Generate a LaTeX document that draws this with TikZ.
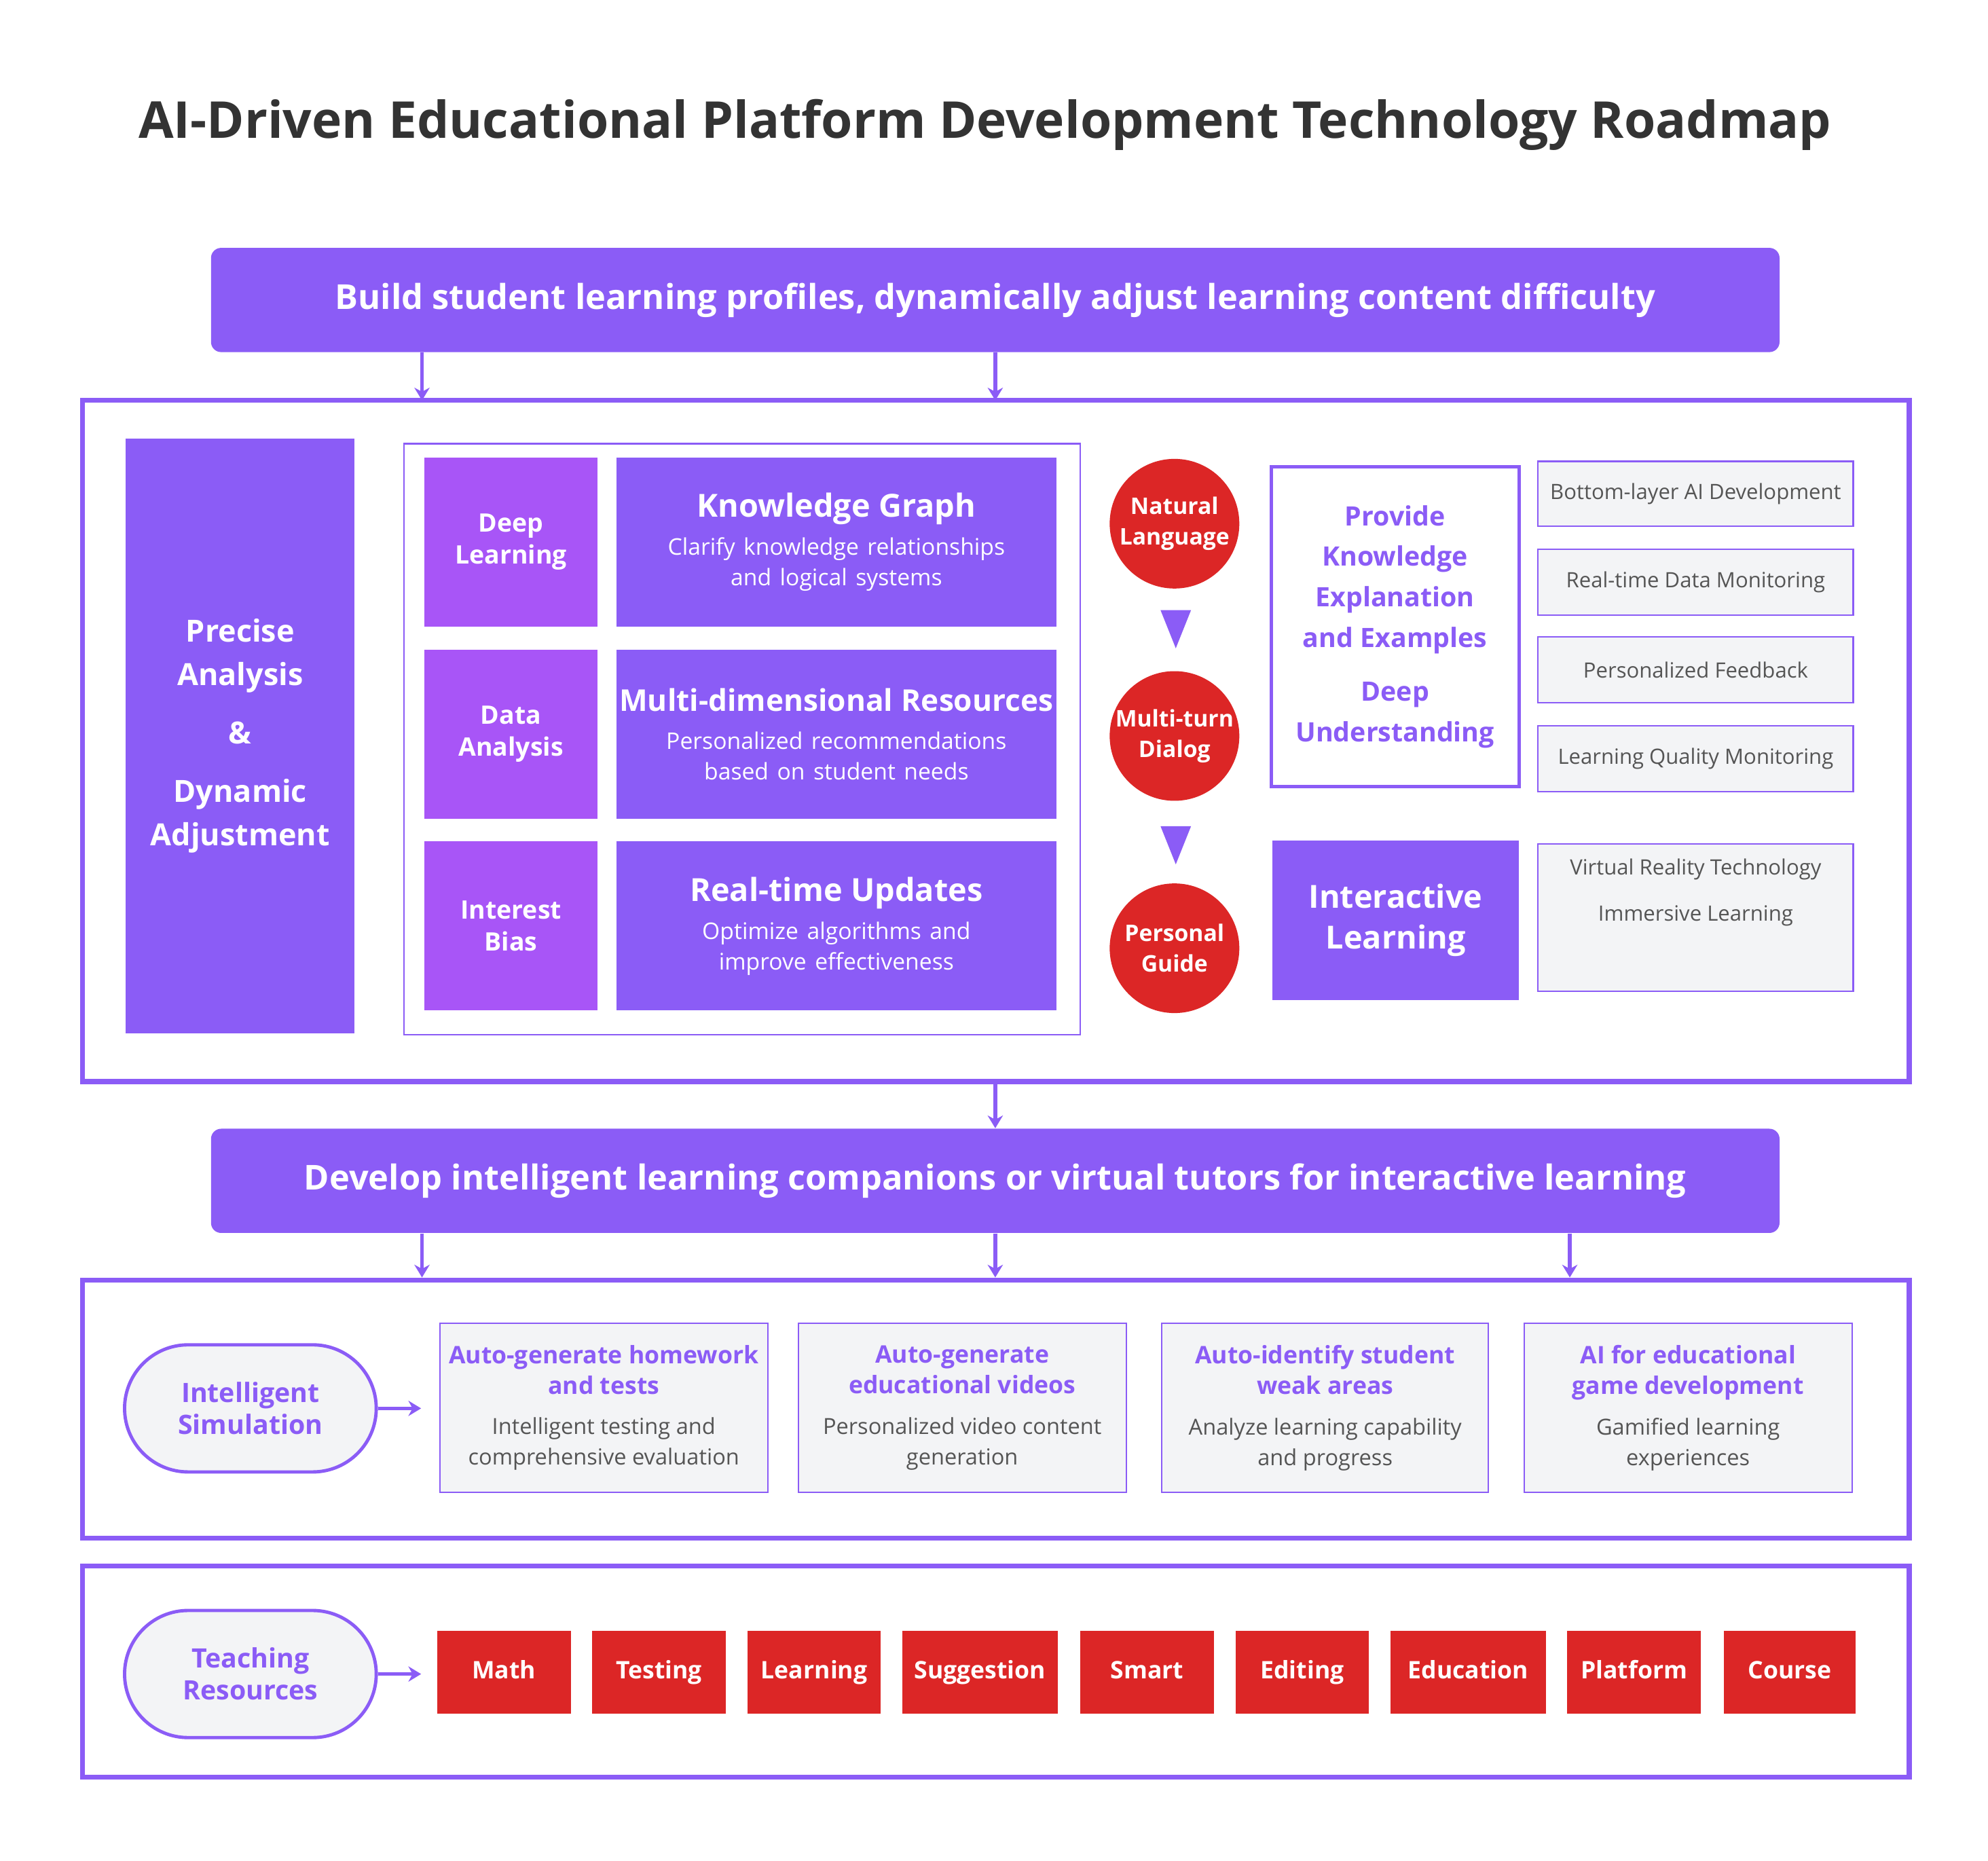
\documentclass[tikz,border=0pt]{standalone}
\usepackage{fontspec}
\setmainfont{Open Sans}
\usetikzlibrary{positioning,shapes.geometric,arrows.meta}
\definecolor{vio}{HTML}{8B5CF6}
\definecolor{lilac}{HTML}{A855F7}
\definecolor{rubin}{HTML}{DC2626}
\definecolor{pale}{HTML}{F3F4F6}
\definecolor{ink}{HTML}{333333}
\definecolor{greytext}{HTML}{555555}
\tikzset{
  banner/.style={fill=vio,rounded corners=4pt,text=white,font=\bfseries\fontsize{13.5}{17}\selectfont},
  frame/.style={draw=vio,line width=2pt},
  tag/.style={fill=lilac,text=white,align=center,font=\bfseries\fontsize{10}{12.5}\selectfont},
  topic/.style={fill=vio,text=white,align=center,text width=172pt},
  dot/.style={circle,fill=rubin,minimum size=51pt,inner sep=0pt,text=white,align=center,font=\bfseries\fontsize{9}{12}\selectfont},
  note/.style={fill=pale,draw=vio,line width=0.6pt,text=greytext,font=\fontsize{8.3}{10}\selectfont},
  card/.style={fill=pale,draw=vio,line width=0.6pt,align=center},
  pill/.style={fill=pale,draw=vio,line width=1.3pt,rounded corners=25pt,text=vio,align=center,font=\bfseries\fontsize{10.5}{12.5}\selectfont},
  chip/.style={fill=rubin,text=white,font=\bfseries\fontsize{9.5}{11}\selectfont,text height=7pt,text depth=2pt},
  flow/.style={draw=vio,line width=1.5pt,-{Stealth[length=5pt,width=6pt]}},
}
\newcommand{\boxat}[5][]{\node[#1,minimum width={(#4-#2)*0.5pt},minimum height={(#5-#3)*0.5pt},inner sep=0pt] at ({(#2+#4)/2},{(#3+#5)/2})}
\begin{document}
\begin{tikzpicture}[x=0.5pt,y=-0.5pt]
    \useasboundingbox[fill=white] (0,0) rectangle (1564,1464);
    \node[text=ink,font=\bfseries\fontsize{20}{24}\selectfont] (title) at (775,98) {AI-Driven Educational Platform Development Technology Roadmap};
    % first banner
    \boxat[banner]{166}{195}{1400}{277} (top) {Build student learning profiles, dynamically adjust learning content difficulty};
    \boxat[frame]{65}{315}{1502}{851} (upper) {};
    \coordinate (t1) at (332,315); \coordinate (t2) at (783,315);
    \draw[flow] (top.south -| t1) -- (t1);
    \draw[flow] (top.south -| t2) -- (t2);
    \boxat[fill=vio,text=white,align=center,font=\bfseries\fontsize{12}{17}\selectfont]{99}{345}{279}{813} (precise) {Precise\\Analysis\\[6pt]\&\\[6pt]Dynamic\\Adjustment};
    \boxat[draw=vio,line width=0.6pt]{318}{349}{850}{814} (inner) {};
    % rows of tags and topics
    \boxat[tag]{334}{360}{470}{493} (tag1) {Deep\\Learning};
    \boxat[tag]{334}{511}{470}{644} (tag2) {Data\\Analysis};
    \boxat[tag]{334}{662}{470}{795} (tag3) {Interest\\Bias};
    \boxat[topic]{485}{360}{831}{493} (kg) {{\bfseries\fontsize{12.5}{15}\selectfont Knowledge Graph}\\[3pt]{\fontsize{9}{12.5}\selectfont Clarify knowledge relationships}\\{\fontsize{9}{12.5}\selectfont and logical systems}};
    \boxat[topic]{485}{511}{831}{644} (md) {{\bfseries\fontsize{11.8}{15}\selectfont Multi-dimensional Resources}\\[3pt]{\fontsize{9}{12.5}\selectfont Personalized recommendations}\\{\fontsize{9}{12.5}\selectfont based on student needs}};
    \boxat[topic]{485}{662}{831}{795} (rt) {{\bfseries\fontsize{12.5}{15}\selectfont Real-time Updates}\\[3pt]{\fontsize{9}{12.5}\selectfont Optimize algorithms and}\\{\fontsize{9}{12.5}\selectfont improve effectiveness}};
    % circles
    \node[dot] (nl) at (924,412) {Natural\\Language};
    \node[dot] (mt) at (924,579) {Multi-turn\\Dialog};
    \node[dot] (pg) at (924,746) {Personal\\Guide};
    \fill[vio] (913,480) -- (937,480) -- (925,510) -- cycle;
    \fill[vio] (913,650) -- (937,650) -- (925,680) -- cycle;
    \boxat[draw=vio,line width=1.3pt,fill=white,text=vio,align=center,font=\bfseries\fontsize{10.5}{16}\selectfont]{1000}{367}{1195}{619} (pk) {Provide\\Knowledge\\Explanation\\and Examples\\[5pt]Deep\\Understanding};
    \boxat[fill=vio,text=white,align=center,font=\bfseries\fontsize{12.5}{16}\selectfont]{1001}{661}{1195}{787} (il) {Interactive\\Learning};
    \boxat[note]{1210}{363}{1458}{414} (n1) {Bottom-layer AI Development};
    \boxat[note]{1210}{432}{1458}{484} (n2) {Real-time Data Monitoring};
    \boxat[note]{1210}{501}{1458}{553} (n3) {Personalized Feedback};
    \boxat[note]{1210}{571}{1458}{623} (n4) {Learning Quality Monitoring};
    \boxat[note,align=center,text depth=22pt]{1210}{664}{1458}{780} (vr) {Virtual Reality Technology\\[8pt]Immersive Learning};
    % second banner
    \boxat[banner]{166}{888}{1400}{970} (mid) {Develop intelligent learning companions or virtual tutors for interactive learning};
    \draw[flow] (upper.south -| t2) -- (mid.north -| t2);
    \boxat[frame]{65}{1007}{1502}{1210} (lower) {};
    \coordinate (t3) at (1235,0);
    \foreach \t in {t1,t2,t3} \draw[flow] (mid.south -| \t) -- (lower.north -| \t);
    \boxat[pill]{98}{1058}{296}{1158} (sim) {Intelligent\\Simulation};
    \draw[flow] (sim.east) -- ++(34,0);
    \boxat[card]{346}{1041}{604}{1174} (c1) {{\color{vio}\bfseries\fontsize{9.5}{12.5}\selectfont Auto-generate homework}\\{\color{vio}\bfseries\fontsize{9.5}{12.5}\selectfont and tests}\\[4pt]{\color{greytext}\fontsize{8.7}{11}\selectfont Intelligent testing and}\\{\color{greytext}\fontsize{8.7}{11}\selectfont comprehensive evaluation}};
    \boxat[card]{628}{1041}{886}{1174} (c2) {{\color{vio}\bfseries\fontsize{9.5}{12.5}\selectfont Auto-generate}\\{\color{vio}\bfseries\fontsize{9.5}{12.5}\selectfont educational videos}\\[4pt]{\color{greytext}\fontsize{8.7}{11}\selectfont Personalized video content}\\{\color{greytext}\fontsize{8.7}{11}\selectfont generation}};
    \boxat[card]{914}{1041}{1171}{1174} (c3) {{\color{vio}\bfseries\fontsize{9.5}{12.5}\selectfont Auto-identify student}\\{\color{vio}\bfseries\fontsize{9.5}{12.5}\selectfont weak areas}\\[4pt]{\color{greytext}\fontsize{8.7}{11}\selectfont Analyze learning capability}\\{\color{greytext}\fontsize{8.7}{11}\selectfont and progress}};
    \boxat[card]{1199}{1041}{1457}{1174} (c4) {{\color{vio}\bfseries\fontsize{9.5}{12.5}\selectfont AI for educational}\\{\color{vio}\bfseries\fontsize{9.5}{12.5}\selectfont game development}\\[4pt]{\color{greytext}\fontsize{8.7}{11}\selectfont Gamified learning}\\{\color{greytext}\fontsize{8.7}{11}\selectfont experiences}};
    % resources strip
    \boxat[frame]{65}{1232}{1502}{1398} (bottom) {};
    \boxat[pill]{98}{1267}{296}{1367} (res) {Teaching\\Resources};
    \draw[flow] (res.east) -- ++(34,0);
    \foreach \a/\b/\w [count=\i] in {344/449/Math,466/571/Testing,588/693/Learning,710/832/Suggestion,850/955/Smart,972/1077/Editing,1094/1216/Education,1233/1338/Platform,1356/1460/Course}
      \boxat[chip]{\a}{1283}{\b}{1348} (chip\i) {\w};
\end{tikzpicture}
\end{document}
